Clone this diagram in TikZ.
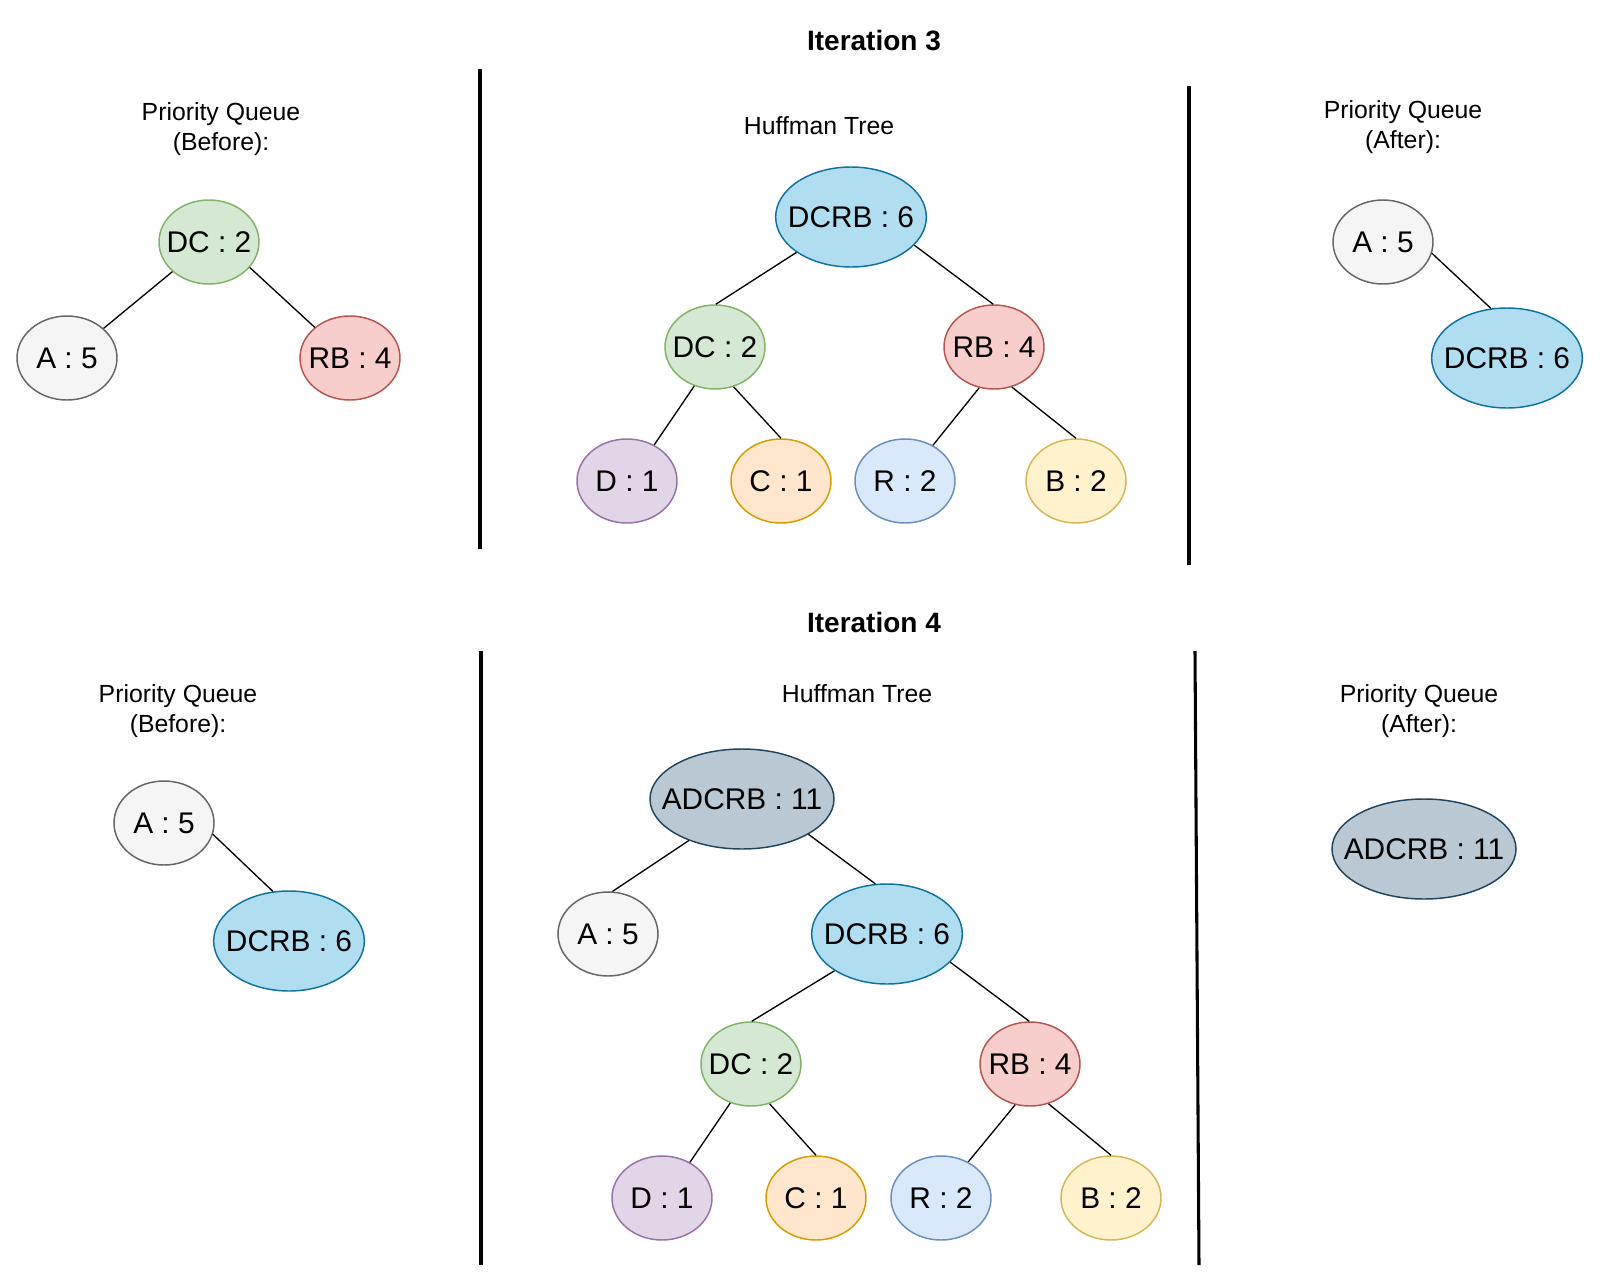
\documentclass[tikz,border=0pt]{standalone}
\usepackage{fontspec}
\setmainfont{Liberation Sans}
\usetikzlibrary{shapes.geometric}
\definecolor{grayF}{HTML}{F5F5F5}\definecolor{grayD}{HTML}{666666}
\definecolor{greenF}{HTML}{D5E8D4}\definecolor{greenD}{HTML}{82B366}
\definecolor{redF}{HTML}{F8CECC}\definecolor{redD}{HTML}{B85450}
\definecolor{blueF}{HTML}{DAE8FC}\definecolor{blueD}{HTML}{6C8EBF}
\definecolor{yellowF}{HTML}{FFF2CC}\definecolor{yellowD}{HTML}{D6B656}
\definecolor{orangeF}{HTML}{FFE6CC}\definecolor{orangeD}{HTML}{D79B00}
\definecolor{purpleF}{HTML}{E1D5E7}\definecolor{purpleD}{HTML}{9673A6}
\definecolor{cyanF}{HTML}{B1DDF0}\definecolor{cyanD}{HTML}{10739E}
\definecolor{slateF}{HTML}{BAC8D3}\definecolor{slateD}{HTML}{23445D}
\newcommand{\zt}[1]{\makebox[0pt]{#1}}
\tikzset{
  ell/.style={ellipse, inner sep=0pt, line width=1.1pt, minimum width=75pt, minimum height=63pt,
    font=\fontsize{22.4}{26}\selectfont},
  wide/.style={minimum width=113pt, minimum height=75pt},
  wider/.style={minimum width=138pt, minimum height=75pt},
  cgray/.style={ell, draw=grayD, fill=grayF},
  cgreen/.style={ell, draw=greenD, fill=greenF},
  cred/.style={ell, draw=redD, fill=redF},
  cblue/.style={ell, draw=blueD, fill=blueF},
  cyellow/.style={ell, draw=yellowD, fill=yellowF},
  corange/.style={ell, draw=orangeD, fill=orangeF},
  cpurple/.style={ell, draw=purpleD, fill=purpleF},
  ccyan/.style={ell, draw=cyanD, fill=cyanF, wide},
  cslate/.style={ell, draw=slateD, fill=slateF, wider},
  lbl/.style={align=center, font=\fontsize{18.6}{22.5}\selectfont, inner sep=0pt},
  ttl/.style={font=\fontsize{21}{25}\selectfont\bfseries, inner sep=0pt},
  edge/.style={line width=1pt, black},
  sep/.style={line width=2.3pt, black}
}
\begin{document}
\begin{tikzpicture}[x=0.75pt, y=-0.75pt]
\useasboundingbox (0,0) rectangle (1600,1285);
% ---------- Iteration 3 ----------
\node[ttl] (t3) at (874,41) {Iteration 3};
\coordinate (v1a) at (480,69); \coordinate (v1b) at (480,549);
\coordinate (v2a) at (1189,86); \coordinate (v2b) at (1189,565);
\draw[sep] (v1a) -- (v1b);
\draw[sep] (v2a) -- (v2b);

\node[lbl] (pqb1) at (221,129) {Priority Queue\\(Before):};
\node[cgreen] (tldc) at (209,242) {\zt{DC : 2}};
\node[cgray] (tla) at (67,358) {\zt{A : 5}};
\node[cred] (tlrb) at (350,358) {\zt{RB : 4}};
\draw[edge] (tldc.219.5) -- (tla.39.5);
\draw[edge] (tldc.-32) -- (tlrb.139.5);

\node[lbl] (ht1) at (819,126) {Huffman Tree};
\node[ccyan] (tdcrb) at (851,217) {\zt{DCRB : 6}};
\node[cgreen] (tdc) at (715,347) {\zt{DC : 2}};
\node[cred] (trb) at (994,347) {\zt{RB : 4}};
\node[cpurple] (td) at (627,481) {\zt{D : 1}};
\node[corange] (tc) at (781,481) {\zt{C : 1}};
\node[cblue] (tr) at (905,481) {\zt{R : 2}};
\node[cyellow] (tb) at (1076,481) {\zt{B : 2}};
\draw[edge] (tdcrb.213.9) -- (tdc.89);
\draw[edge] (tdcrb.336.8) -- (trb.91);
\draw[edge] (tdc.242.3) -- (td.53);
\draw[edge] (tdc.295.4) -- (tc.90);
\draw[edge] (trb.250.7) -- (tr.52);
\draw[edge] (trb.294.9) -- (tb.90);

\node[lbl] (pqa1) at (1403,127) {Priority Queue\\(After):};
\node[cgray] (tra) at (1383,242) {\zt{A : 5}};
\node[ccyan] (trdcrb) at (1507,358) {\zt{DCRB : 6}};
\draw[edge] (tra.347.7) -- (trdcrb.108.4);

% ---------- Iteration 4 ----------
\node[ttl] (t4) at (874,622) {Iteration 4};
\coordinate (v3a) at (481,651); \coordinate (v3b) at (481,1265);
\coordinate (v4a) at (1195,651); \coordinate (v4b) at (1199,1265);
\draw[sep] (v3a) -- (v3b);
\draw[sep] (v4a) -- (v4b);

\node[lbl] (pqb2) at (178,711) {Priority Queue\\(Before):};
\node[cgray] (bla) at (164,823) {\zt{A : 5}};
\node[ccyan] (bldcrb) at (289,941) {\zt{DCRB : 6}};
\draw[edge] (bla.347.7) -- (bldcrb.108.4);

\node[lbl] (ht2) at (857,694) {Huffman Tree};
\node[cslate] (badcrb) at (742,799) {\zt{ADCRB : 11}};
\node[cgray] (ba) at (608,934) {\zt{A : 5}};
\node[ccyan] (bdcrb) at (887,934) {\zt{DCRB : 6}};
\node[cgreen] (bdc) at (751,1064) {\zt{DC : 2}};
\node[cred] (brb) at (1030,1064) {\zt{RB : 4}};
\node[cpurple] (bd) at (662,1198) {\zt{D : 1}};
\node[corange] (bc) at (816,1198) {\zt{C : 1}};
\node[cblue] (br) at (941,1198) {\zt{R : 2}};
\node[cyellow] (bb) at (1111,1198) {\zt{B : 2}};
\draw[edge] (badcrb.218.5) -- (ba.84);
\draw[edge] (badcrb.332.7) -- (bdcrb.103.8);
\draw[edge] (bdcrb.215.2) -- (bdc.89);
\draw[edge] (bdcrb.336) -- (brb.91);
\draw[edge] (bdc.242.3) -- (bd.52);
\draw[edge] (bdc.295.4) -- (bc.90);
\draw[edge] (brb.250.7) -- (br.53);
\draw[edge] (brb.295.4) -- (bb.90);

\node[lbl] (pqa2) at (1419,711) {Priority Queue\\(After):};
\node[cslate] (bradcrb) at (1424,849) {\zt{ADCRB : 11}};
\end{tikzpicture}
\end{document}
